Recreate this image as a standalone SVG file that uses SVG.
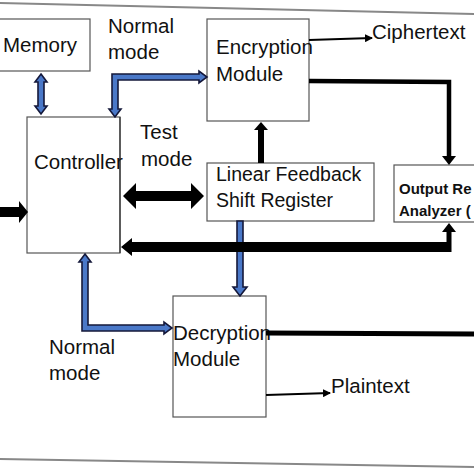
<svg xmlns="http://www.w3.org/2000/svg" width="474" height="474" viewBox="0 0 474 474">
<style>
.box{fill:#fff;stroke:#555;stroke-width:1.2}
.lbl{font-family:"Liberation Sans",Arial,sans-serif;font-size:20.5px;fill:#111}
.ora{font-family:"Liberation Sans",Arial,sans-serif;font-size:15px;font-weight:bold;fill:#111}
.blue{fill:#4a78c8;stroke:#14183a;stroke-width:1.6;stroke-linejoin:miter}
.blk{fill:#000;stroke:none}
.thin{stroke:#000;stroke-width:2;fill:none}
.edge{stroke:#888;stroke-width:2;fill:none}
</style>
<defs>
<marker id="ah" markerWidth="8" markerHeight="8" refX="7" refY="4" orient="auto" markerUnits="userSpaceOnUse">
<path d="M0,0 L8,4 L0,8 Z" fill="#000"/>
</marker>
</defs>
<rect width="474" height="474" fill="#fff"/>
<line class="edge" x1="0" y1="3" x2="474" y2="14"/>
<line class="edge" x1="0" y1="459" x2="474" y2="467"/>

<g id="memory">
<rect class="box" x="-2" y="19" width="92" height="52" stroke="#444"/>
<text class="lbl" x="3" y="52">Memory</text>
</g>
<g id="encryption">
<rect class="box" x="207" y="19" width="102" height="102" stroke="#555"/>
<text class="lbl" x="216" y="54">Encryption</text>
<text class="lbl" x="216" y="81">Module</text>
</g>
<g id="controller">
<rect class="box" x="27" y="117" width="93" height="136" stroke="#bbb"/>
<line x1="120" y1="117" x2="120" y2="253" stroke="#333" stroke-width="1.2"/>
<text class="lbl" x="34" y="169">Controller</text>
</g>
<g id="lfsr">
<rect class="box" x="207" y="163" width="167" height="58" stroke="#444"/>
<text class="lbl" x="216" y="181" style="font-size:19.5px">Linear Feedback</text>
<text class="lbl" x="216" y="207" style="font-size:19.5px">Shift Register</text>
</g>
<g id="ora">
<rect class="box" x="394" y="165" width="90" height="57" stroke="#444"/>
<text class="ora" x="399" y="194">Output Re</text>
<text class="ora" x="399" y="216">Analyzer (</text>
</g>
<g id="decryption">
<rect class="box" x="173" y="296" width="93" height="121" stroke="#888"/>
<text class="lbl" x="173" y="340">Decryption</text>
<text class="lbl" x="173" y="366">Module</text>
</g>
<g id="labels">
<text class="lbl" x="108" y="33">Normal</text>
<text class="lbl" x="108" y="59">mode</text>
<text class="lbl" x="140" y="139">Test</text>
<text class="lbl" x="141" y="166">mode</text>
<text class="lbl" x="49" y="354">Normal</text>
<text class="lbl" x="49" y="380">mode</text>
<text class="lbl" x="372" y="39">Ciphertext</text>
<text class="lbl" x="331" y="393">Plaintext</text>
</g>

<g id="connectors">
<polygon class="blue" points="41,74 47,82 44,82 44,106 47,106 41,114 35,106 38,106 38,82 35,82"/>
<polygon class="blue" points="112,74 199,74 199,71 207,77 199,83 199,80 118,80 118,109 121,109 115,117 109,109 112,109"/>
<polygon class="blue" points="85,254 91,262 88,262 88,325 164,325 164,322 172,328 164,334 164,331 82,331 82,262 79,262"/>
<polygon class="blue" points="237,221 243,221 243,287 247,287 240,296 233,287 237,287"/>
<polygon class="blk" points="0,207 19,207 19,201 28,212 19,223 19,217 0,217"/>
<polygon class="blk" points="123,196 136,183 136,191 191,191 191,183 204,196 191,209 191,201 136,201 136,209"/>
<polygon class="blk" points="261,122 268,130 264,130 264,163 258,163 258,130 254,130"/>
<polyline points="309,81 449,82 449,157" fill="none" stroke="#000" stroke-width="4.5"/>
<polygon class="blk" points="442,156 456,156 449,165"/>
<polygon class="blk" points="121,247 132,238 132,242 446.5,242 446.5,232 442,232 449,223 456,232 451.5,232 451.5,252 132,252 132,256"/>
<line x1="266" y1="333" x2="474" y2="334" stroke="#000" stroke-width="5"/>
<line class="thin" x1="309" y1="40" x2="372" y2="38" marker-end="url(#ah)"/>
<line class="thin" x1="266" y1="395" x2="330" y2="393" marker-end="url(#ah)"/>
</g>
</svg>
